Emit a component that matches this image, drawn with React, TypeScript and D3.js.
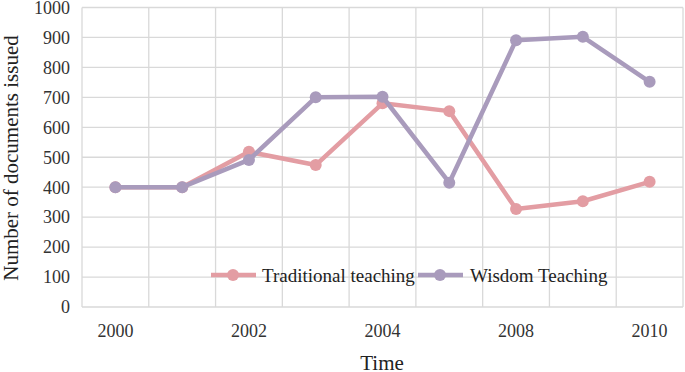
import React from "react";
import * as d3 from "d3";

const categories = ["2000", "2001", "2002", "2003", "2004", "2006", "2008", "2009", "2010"];
const shownLabels = ["2000", "2002", "2004", "2008", "2010"];
const traditional = [400, 400, 518, 474, 680, 654, 327, 353, 418];
const wisdom = [400, 400, 491, 700, 702, 415, 891, 902, 752];
const yTicks = [0, 100, 200, 300, 400, 500, 600, 700, 800, 900, 1000];
const seriesNames = ["Traditional teaching", "Wisdom Teaching"];
const colors = ["#e39da3", "#a99bbc"];

export default function App() {
  const W = 685, H = 372;
  const left = 82, right = 683, top = 7.5, bottom = 307;
  const x = d3.scaleBand<string>().domain(categories).range([left, right]);
  const y = d3.scaleLinear().domain([0, 1000]).range([bottom, top]);
  const cx = (c: string) => (x(c) as number) + x.bandwidth() / 2;
  const line = d3.line<number>().x((_, i) => cx(categories[i])).y((d) => y(d));
  const font = "'Liberation Serif', 'Times New Roman', serif";
  const series = [traditional, wisdom];
  const legendY = 275;
  const legendItems = [
    { lx: 211, tx: 262 },
    { lx: 418, tx: 470 },
  ];
  return (
    <svg width={W} height={H} style={{ position: "absolute", left: 0, top: 0, background: "#fff" }} fontFamily={font}>
      {yTicks.map((t) => (
        <line key={"h" + t} x1={left} x2={right} y1={y(t)} y2={y(t)} stroke="#d9d9d9" strokeWidth={1.3} />
      ))}
      {categories.map((c, i) => (
        <line key={"v" + c} x1={x(c) as number} x2={x(c) as number} y1={top} y2={bottom} stroke="#d9d9d9" strokeWidth={1.3} />
      ))}
      <line x1={right} x2={right} y1={top} y2={bottom} stroke="#d9d9d9" strokeWidth={1.3} />
      {yTicks.map((t) => (
        <text key={"yt" + t} x={70} y={y(t)} dy="0.35em" textAnchor="end" fontSize={18} fill="#333">{t}</text>
      ))}
      {categories.filter((c) => shownLabels.includes(c)).map((c) => (
        <text key={"xt" + c} x={cx(c)} y={331} dy="0.35em" textAnchor="middle" fontSize={18} fill="#333">{c}</text>
      ))}
      <text x={382} y={363} dy="0.35em" textAnchor="middle" fontSize={21} fill="#222">Time</text>
      <text transform={`translate(11,158) rotate(-90)`} dy="0.35em" textAnchor="middle" fontSize={21} fill="#222">Number of documents issued</text>
      {series.map((s, k) => (
        <g key={"s" + k}>
          <path d={line(s) as string} fill="none" stroke={colors[k]} strokeWidth={4.5} strokeLinejoin="round" />
          {s.map((v, i) => (
            <circle key={i} cx={cx(categories[i])} cy={y(v)} r={6} fill={colors[k]} />
          ))}
        </g>
      ))}
      {legendItems.map((it, k) => (
        <g key={"lg" + k}>
          <line x1={it.lx} x2={it.lx + 45} y1={legendY} y2={legendY} stroke={colors[k]} strokeWidth={4.5} />
          <circle cx={it.lx + 22} cy={legendY} r={6} fill={colors[k]} />
          <text x={it.tx} y={legendY} dy="0.35em" fontSize={19} fill="#222">{seriesNames[k]}</text>
        </g>
      ))}
    </svg>
  );
}
